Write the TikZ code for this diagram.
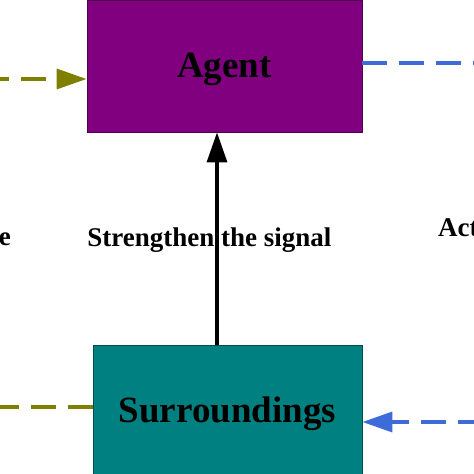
\documentclass[tikz,border=0pt]{standalone}
\usepackage{fontspec}
\setmainfont{Liberation Serif}
\usetikzlibrary{arrows.meta}
\definecolor{agentpurple}{RGB}{128,0,128}
\definecolor{surrteal}{RGB}{0,128,128}
\definecolor{loopolive}{RGB}{128,128,0}
\definecolor{actblue}{RGB}{61,108,217}

\begin{document}
\begin{tikzpicture}[x=1pt, y=-1pt,
        box/.style={rectangle, minimum height=132pt, text height=32pt, inner sep=0pt, line width=0.8pt,
            font=\fontsize{37}{40}\selectfont\bfseries},
        lbl/.style={inner sep=0pt, font=\fontsize{27}{30}\selectfont\bfseries},
        loopline/.style={loopolive, line width=3.4pt, dash pattern=on 25pt off 12pt},
        actline/.style={actblue, line width=3.4pt, dash pattern=on 25pt off 12pt},
        tip/.style={-{Triangle[length=30pt, width=20pt]}}
    ]
            \useasboundingbox (0,0) rectangle (474,474);
            \clip (0,0) rectangle (474,474);

            \node[box, fill=agentpurple, draw=agentpurple!60!black, minimum width=275pt] (agent) at (224.5,66) {Agent};
            \node[box, fill=surrteal, draw=surrteal!60!black, minimum width=269pt] (surr) at (227.5,411) {Surroundings};

            % signal
            \coordinate (axis) at (217,0);
            \draw[tip, line width=3.2pt] (axis |- surr.north) to node[lbl, midway, xshift=-7.5pt, yshift=-2pt] (sig) {Strengthen the signal} (axis |- agent.south);

            % feedback loop
            \coordinate (fbin) at (-16,79);
            \coordinate (fbout) at (-10,407);
            \draw[loopline, tip] (fbin) -- (fbin -| agent.west);
            \draw[loopline] (fbout -| surr.west) -- (fbout);

            % action loop
            \coordinate (actout) at (490,63);
            \coordinate (actin) at (483,422);
            \draw[actline] (actout -| agent.east) -- (actout);
            \draw[actline, tip] (actin) -- (actin -| surr.east);

            \node[lbl, anchor=base east] (obs) at (11,245) {e};
            \node[lbl, anchor=base west] (act) at (438,236) {Act};
        \end{tikzpicture}
\end{document}
